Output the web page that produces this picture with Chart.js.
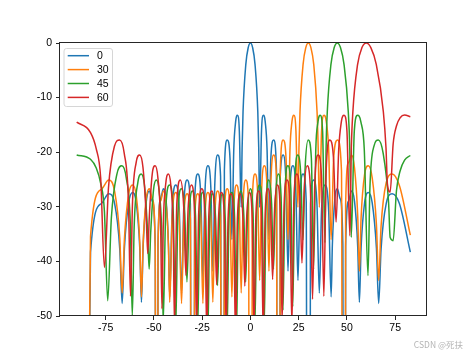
<!DOCTYPE html>
<html><head><meta charset="utf-8">
<script src="https://cdn.jsdelivr.net/npm/chart.js@4/dist/chart.umd.min.js"></script>
<style>html,body{margin:0;padding:0;background:#fff;}canvas{display:block;}</style>
</head><body>
<canvas id="c" width="474" height="355"></canvas>
<script>
// ---- data ----
const seriesLabels = ['0', '30', '45', '60'];
const xTicks = [-75, -50, -25, 0, 25, 50, 75];
const yTicks = [-50, -40, -30, -20, -10, 0];
const watermarkText = 'CSDN @死扶';

// [angle in degrees, level in dB]
const beam0 = [
[-90,-300],[-82.833,-38.3],
[-77.162,-29.4],[-73.403,-27.6],[-70.334,-29.4],[-67.668,-37.8],
[-66.443,-47.7],
[-65.276,-37.6],[-63.083,-29.3],[-61.045,-27.4],[-59.129,-29.3],[-57.316,-37.6],
[-56.443,-47.5],
[-55.585,-37.3],[-53.933,-29.0],[-52.340,-27.1],[-50.804,-29.0],[-49.316,-37.3],
[-48.590,-300],
[-47.874,-36.9],[-46.467,-28.5],[-45.099,-26.7],[-43.762,-28.5],[-42.452,-36.9],
[-41.810,-46.5],
[-40.541,-30.8],[-38.682,-26.0],[-36.870,-30.4],
[-35.684,-45.8],
[-34.517,-30.0],[-32.797,-25.1],[-31.109,-29.5],
[-30,-300],
[-28.903,-29.0],[-27.279,-24.0],[-25.679,-28.2],
[-24.624,-43.5],
[-23.578,-27.6],[-22.024,-22.5],[-20.487,-26.6],
[-19.471,-41.8],
[-18.461,-25.9],[-16.958,-20.5],[-15.466,-24.4],
[-14.478,-300],
[-13.493,-23.3],[-12.025,-17.75],[-10.564,-21.2],
[-9.594,-36.0],
[-8.627,-19.6],[-7.662,-14.4],[-7.181,-13.4],[-6.700,-13.25],[-5.739,-16.1],
[-4.780,-30.1],
[-4.301,-19.2],[-3.823,-12.6],[-2.388,-3.92],[-1.146,-0.84],[0,0],[1.146,-0.84],[2.388,-3.92],[3.823,-12.6],[4.301,-19.2],
[4.780,-30.1],
[5.739,-16.1],[6.700,-13.25],[7.181,-13.4],[7.662,-14.4],[8.627,-19.6],
[9.594,-36.0],
[10.564,-21.2],[12.025,-17.75],[13.493,-23.3],
[14.478,-300],
[15.466,-24.4],[16.958,-20.5],[18.461,-25.9],
[19.471,-41.8],
[20.487,-26.6],[22.024,-22.5],[23.578,-27.6],
[24.624,-43.5],
[25.679,-28.2],[27.279,-24.0],[28.903,-29.0],
[30,-300],
[31.109,-29.5],[32.797,-25.1],[34.517,-30.0],
[35.684,-45.8],
[36.870,-30.4],[38.682,-26.0],[40.541,-30.8],
[41.810,-46.5],
[42.452,-36.9],[43.762,-28.5],[45.099,-26.7],[46.467,-28.5],[47.874,-36.9],
[48.590,-300],
[49.316,-37.3],[50.804,-29.0],[52.340,-27.1],[53.933,-29.0],[55.585,-37.3],
[56.443,-47.5],
[57.316,-37.6],[59.129,-29.3],[61.045,-27.4],[63.083,-29.3],[65.276,-37.6],
[66.443,-47.7],
[67.668,-37.8],[70.334,-29.4],[73.403,-27.6],[77.162,-29.4],[82.833,-38.3]
];

const beam30 = [
[-90,-300],[-82.833,-35.4],
[-77.162,-26.8],[-73.403,-25.1],[-70.334,-27.2],[-67.668,-35.7],
[-66.443,-45.8],
[-65.276,-35.9],[-63.083,-27.7],[-61.045,-26.0],[-59.129,-28.0],[-57.316,-36.5],
[-56.443,-46.5],
[-55.585,-36.7],[-53.933,-28.4],[-52.340,-26.7],[-50.804,-28.6],[-49.316,-37.0],
[-48.590,-300],
[-47.874,-37.2],[-46.467,-28.9],[-45.099,-27.1],[-43.762,-29.0],[-42.452,-37.4],
[-41.810,-47.5],
[-40.541,-31.9],[-38.682,-27.4],[-36.870,-32.1],
[-35.684,-47.7],
[-34.517,-32.2],[-32.797,-27.6],[-31.109,-32.2],
[-30,-300],
[-28.903,-32.2],[-27.279,-27.6],[-25.679,-32.2],
[-24.624,-47.7],
[-23.578,-32.1],[-22.024,-27.4],[-20.487,-31.9],
[-19.471,-47.5],
[-18.461,-31.8],[-16.958,-27.1],[-15.466,-31.6],
[-14.478,-300],
[-13.493,-31.4],[-12.025,-26.7],[-10.564,-31.1],
[-9.594,-46.5],
[-8.627,-30.8],[-7.181,-26.0],[-5.739,-30.4],
[-4.780,-45.8],
[-3.823,-30.0],[-2.388,-25.1],[-0.955,-29.5],
[0,-300],
[0.955,-29.0],[2.388,-24.0],[3.823,-28.2],
[4.780,-43.5],
[5.739,-27.6],[7.181,-22.5],[8.627,-26.6],
[9.594,-41.8],
[10.564,-25.9],[12.025,-20.5],[13.493,-24.4],
[14.478,-300],
[15.466,-23.3],[16.958,-17.75],[18.461,-21.2],
[19.471,-36.0],
[20.487,-19.6],[21.509,-14.4],[22.024,-13.4],[22.539,-13.25],[23.578,-16.1],
[24.624,-30.1],
[25.150,-19.2],[25.679,-12.6],[27.279,-3.92],[28.685,-0.84],[30,0],[31.333,-0.84],[32.797,-3.92],[34.517,-12.6],[35.099,-19.2],
[35.684,-30.1],
[36.870,-16.1],[38.073,-13.25],[38.682,-13.4],[39.296,-14.4],[40.541,-19.6],
[41.810,-36.0],
[43.104,-21.2],[45.099,-17.75],[47.167,-23.3],
[48.590,-300],
[49.316,-29.7],[50.804,-21.9],[52.340,-20.5],[53.933,-22.9],[55.585,-31.7],
[56.443,-41.8],
[57.316,-32.1],[59.129,-24.1],[61.045,-22.5],[63.083,-24.7],[65.276,-33.3],
[66.443,-43.5],
[67.668,-33.6],[70.334,-25.6],[73.403,-24.0],[77.162,-26.1],[82.833,-35.2]
];

const beam45 = [
[-90,-20.5],[-82.833,-21.3],[-79.858,-22.9],[-77.571,-25.7],[-75.638,-30.8],[-73.933,-47.2],
[-72.030,-32.0],[-69.158,-24.0],[-66.617,-22.5],[-64.319,-24.7],[-62.197,-33.3],
[-61.190,-50.0],
[-60.214,-33.6],[-58.344,-25.6],[-56.567,-24.0],[-54.874,-26.1],[-53.246,-34.7],
[-52.456,-41.4],
[-51.679,-34.9],[-50.165,-26.8],[-48.695,-25.1],[-47.270,-27.2],[-45.880,-35.7],
[-45.199,-51.25],
[-43.859,-30.4],[-41.904,-26.0],[-40.007,-30.8],
[-38.772,-53.1],
[-37.557,-31.1],[-35.771,-26.7],[-34.026,-31.2],
[-32.880,-43.75],
[-31.750,-31.5],[-30.081,-27.1],[-28.439,-31.7],
[-27.358,-52.96],
[-26.288,-31.9],[-24.701,-27.4],[-23.134,-32.0],
[-22.100,-54.2],
[-21.073,-32.2],[-19.546,-27.6],[-18.033,-32.2],
[-17.031,-44.4],
[-16.035,-32.2],[-14.550,-27.6],[-13.052,-32.2],
[-12.097,-53.2],
[-11.122,-32.1],[-9.665,-27.4],[-8.215,-31.9],
[-7.252,-54.0],
[-6.290,-31.85],[-4.851,-27.1],[-3.415,-31.6],
[-2.458,-43.75],
[-1.503,-31.4],[-0.070,-26.7],[1.363,-31.1],
[2.318,-52.0],
[3.274,-30.8],[4.710,-26.0],[6.149,-30.4],
[7.110,-52.3],
[8.073,-30.0],[9.523,-25.1],[10.978,-29.5],
[11.953,-41.4],
[12.931,-29.0],[14.405,-24.0],[15.889,-28.2],
[16.884,-48.95],
[17.885,-27.6],[19.396,-22.5],[20.923,-26.6],
[21.948,-48.3],
[22.982,-25.9],[24.546,-20.5],[26.132,-24.4],
[27.201,-36.1],
[28.280,-23.3],[29.919,-17.75],[31.585,-21.2],
[32.712,-41.5],
[33.856,-19.6],[35.013,-14.4],[35.599,-13.4],[36.188,-13.25],[37.380,-16.1],
[38.592,-36.6],
[39.206,-19.2],[39.824,-12.6],[41.716,-3.92],[43.402,-0.84],[45,0],[46.645,-0.84],[48.484,-3.92],[50.693,-12.6],[51.454,-19.2],
[52.226,-35.6],
[53.814,-16.1],[55.464,-13.25],[56.315,-13.4],[57.186,-14.4],[58.993,-19.6],
[60.899,-42.6],
[61.898,-26.5],[63.998,-18.9],[66.268,-17.75],[68.766,-20.2],[71.570,-29.2],
[72.387,-35.6],[73.933,-36.2],
[75.638,-27.1],[77.571,-23.4],[79.858,-21.45],[82.833,-20.6]
];

const beam60 = [
[-90,-14.5],[-82.833,-16.4],[-79.858,-19.4],[-77.571,-24.7],[-75.638,-41.1],
[-73.524,-26.5],[-70.442,-18.9],[-67.765,-17.75],[-65.363,-20.2],[-63.163,-29.2],
[-62.125,-46.4],
[-61.121,-29.7],[-59.201,-21.9],[-57.384,-20.5],[-55.652,-22.8],[-53.995,-31.6],
[-53.191,-38.55],
[-52.401,-32.0],[-50.862,-24.0],[-49.373,-22.5],[-47.928,-24.7],[-46.522,-33.3],
[-45.832,-48.66],
[-45.151,-33.6],[-43.812,-25.6],[-42.504,-24.0],[-41.221,-26.1],[-39.963,-34.7],
[-39.344,-51.7],
[-38.119,-29.4],[-36.320,-25.1],[-34.562,-30.0],
[-33.411,-42.56],
[-32.274,-30.4],[-30.595,-26.0],[-28.945,-30.8],
[-27.860,-51.7],
[-26.785,-31.1],[-25.191,-26.7],[-23.618,-31.2],
[-22.580,-54.0],
[-21.549,-31.5],[-20.017,-27.1],[-18.500,-31.7],
[-17.496,-44.27],
[-16.497,-31.9],[-15.009,-27.4],[-13.531,-32.0],
[-12.551,-52.9],
[-11.574,-32.2],[-10.116,-27.6],[-8.664,-32.2],
[-7.699,-54.7],
[-6.736,-32.2],[-5.296,-27.6],[-3.859,-32.2],
[-2.903,-44.5],
[-1.947,-32.1],[-0.514,-27.4],[0.919,-31.9],
[1.873,-52.7],
[2.829,-31.85],[4.265,-27.1],[5.702,-31.6],
[6.663,-54.0],
[7.626,-31.4],[9.073,-26.7],[10.533,-31.1],
[11.499,-43.3],
[12.476,-30.8],[13.947,-26.0],[15.428,-30.4],
[16.421,-50.96],
[17.419,-30.0],[18.927,-25.1],[20.448,-29.5],
[21.471,-51.7],
[22.501,-29.0],[24.060,-24.0],[25.639,-28.2],
[26.702,-40.3],
[27.777,-27.6],[29.408,-22.5],[31.066,-26.6],
[32.187,-46.95],
[33.323,-25.9],[35.055,-20.5],[36.824,-24.4],
[38.027,-46.4],
[39.249,-23.3],[41.125,-17.75],[43.055,-21.2],
[44.375,-32.8],
[45.727,-19.6],[47.113,-14.4],[47.819,-13.4],[48.535,-13.25],[49.999,-16.1],
[51.507,-35.3],
[52.282,-19.2],[53.069,-12.6],[55.524,-3.92],[57.782,-0.84],[60,0],[62.378,-0.84],[65.188,-3.92],[68.857,-12.6],[70.226,-19.2],
[70.964,-25.85],[72.387,-27.3],
[73.933,-18.5],[75.638,-15.2],[77.571,-13.7],[79.858,-13.2],[82.833,-13.5]
];

// ---- styling ----
const seriesData = [beam0, beam30, beam45, beam60];
const seriesColors = ['#1f77b4', '#ff7f0e', '#2ca02c', '#d62728'];
const FONT = 'Liberation Sans';
const FONT_SIZE = 10.5;

const decorPlugin = {
  id: 'decor',
  afterDatasetsDraw(chart) {
    const ctx = chart.ctx, a = chart.chartArea;
    ctx.save();
    ctx.strokeStyle = '#262626';
    ctx.lineWidth = 1;
    ctx.strokeRect(a.left - 0.5, a.top - 0.5, a.right - a.left, a.bottom - a.top);
    const lx = 64, ly = 48.5, lw = 48.5, lh = 58, r = 2.5;
    ctx.beginPath();
    ctx.moveTo(lx + r, ly);
    ctx.arcTo(lx + lw, ly, lx + lw, ly + lh, r);
    ctx.arcTo(lx + lw, ly + lh, lx, ly + lh, r);
    ctx.arcTo(lx, ly + lh, lx, ly, r);
    ctx.arcTo(lx, ly, lx + lw, ly, r);
    ctx.closePath();
    ctx.fillStyle = 'rgba(255,255,255,0.8)';
    ctx.fill();
    ctx.strokeStyle = '#d6d6d6';
    ctx.stroke();
    ctx.font = FONT_SIZE + 'px "' + FONT + '"';
    ctx.textBaseline = 'middle';
    ctx.textAlign = 'left';
    chart.data.datasets.forEach((ds, i) => {
      const y = 55.7 + i * 13.9;
      ctx.strokeStyle = ds.borderColor;
      ctx.lineWidth = 1.5;
      ctx.beginPath();
      ctx.moveTo(67.7, y);
      ctx.lineTo(89, y);
      ctx.stroke();
      ctx.fillStyle = '#000';
      ctx.fillText(ds.label, 97, y + 0.5);
    });
    ctx.restore();
  },
  afterDraw(chart) {
    const ctx = chart.ctx;
    ctx.save();
    ctx.font = '8.5px "Noto Sans CJK SC"';
    ctx.fillStyle = '#b4b4b4';
    ctx.textBaseline = 'middle';
    ctx.textAlign = 'right';
    ctx.fillText(watermarkText, 463, 345);
    ctx.restore();
  }
};

new Chart(document.getElementById('c').getContext('2d'), {
  type: 'line',
  data: {
    datasets: seriesData.map((pts, i) => ({
      label: seriesLabels[i],
      data: pts.map(p => ({x: p[0], y: p[1]})),
      borderColor: seriesColors[i],
      backgroundColor: seriesColors[i],
      borderWidth: 1.5,
      pointRadius: 0,
      cubicInterpolationMode: 'monotone',
      fill: false,
      clip: 0,
      order: seriesData.length - i
    }))
  },
  options: {
    responsive: false,
    animation: false,
    events: [],
    layout: {padding: {left: 0, top: 43, right: 47, bottom: 0}},
    plugins: {legend: {display: false}, tooltip: {enabled: false}},
    scales: {
      x: {
        type: 'linear', min: -98.64, max: 91.47,
        afterBuildTicks: s => { s.ticks = xTicks.map(v => ({value: v})); },
        afterFit: s => { s.height = 39; },
        border: {display: false},
        grid: {drawOnChartArea: false, drawTicks: true, tickLength: 4, tickColor: '#262626', tickWidth: 1},
        ticks: {color: '#000', font: {family: FONT, size: FONT_SIZE}, padding: 2, maxRotation: 0, autoSkip: false}
      },
      y: {
        type: 'linear', min: -50, max: 0,
        afterBuildTicks: s => { s.ticks = yTicks.map(v => ({value: v})); },
        afterFit: s => { s.width = 60; },
        border: {display: false},
        grid: {drawOnChartArea: false, drawTicks: true, tickLength: 4, tickColor: '#262626', tickWidth: 1},
        ticks: {color: '#000', font: {family: FONT, size: FONT_SIZE}, padding: 4, autoSkip: false}
      }
    }
  },
  plugins: [decorPlugin]
});
</script>
</body></html>
